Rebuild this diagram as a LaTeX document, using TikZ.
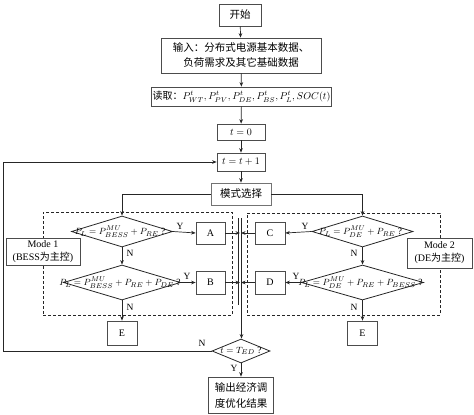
\documentclass[tikz,border=0pt]{standalone}
\usepackage{fontspec}
\setmainfont{Liberation Serif}
\newfontfamily\cjk{Noto Sans CJK SC}
\usetikzlibrary{shapes.geometric,arrows.meta}
\newcommand{\zh}[1]{{\cjk #1}}
\begin{document}
\begin{tikzpicture}[x=1pt,y=-1pt,
  box/.style={draw=black!70, line width=0.7pt, fill=white, inner sep=1pt, align=center, font=\fontsize{10.5}{15}\selectfont},
  dia/.style={draw=black!85, line width=0.8pt, diamond, inner sep=0pt, fill=white},
  dtext/.style={font=\fontsize{9.5}{10}\selectfont, inner sep=0pt},
  con/.style={draw=black!85, line width=0.7pt, -{Stealth[length=4.5pt,width=3.6pt]}},
  ln/.style={draw=black!85, line width=0.7pt},
  dashbox/.style={draw=black!85, line width=0.8pt, dash pattern=on 3pt off 2pt, inner sep=0pt},
  yn/.style={font=\fontsize{9.5}{10}\selectfont, inner sep=0pt}]
\useasboundingbox (0,0) rectangle (474,415);

% dashed mode regions
\node[dashbox, minimum width=189pt, minimum height=103pt] (gL) at (137.5,263.5) {};
\node[dashbox, minimum width=193pt, minimum height=102pt] (gR) at (343.5,264) {};

% main column
\node[box, minimum width=42pt, minimum height=22pt] (start) at (240,15) {\zh{开始}};
\node[box, minimum width=160pt, minimum height=35pt] (input) at (241,55.5) {\zh{输入：分布式电源基本数据、}\\\zh{负荷需求及其它基础数据}};
\node[box, minimum width=163pt, minimum height=19pt, font=\fontsize{10}{11}\selectfont] (read) at (241.5,96.5) {\zh{读取：}$P^t_{WT},P^t_{PV},P^t_{DE},P^t_{BS},P^t_{L},SOC(t)$};
\node[box, minimum width=48pt, minimum height=16pt, font=\fontsize{10}{11}\selectfont] (t0) at (241,132) {$t=0$};
\node[box, minimum width=48pt, minimum height=18pt, font=\fontsize{10}{11}\selectfont] (tt) at (241,162) {$t=t+1$};
\node[box, draw=black!55, minimum width=60pt, minimum height=22pt] (mode) at (241,194) {\zh{模式选择}};

% left mode
\node[dia, minimum width=101pt, minimum height=31pt] (dL1) at (122,231.5) {};
\node[dtext] at (120,231.5) {$P_L=P^{MU}_{BESS}+P_{RE}$ ?};
\node[dia, minimum width=117pt, minimum height=35pt] (dL2) at (122,282.5) {};
\node[dtext] at (120,282.5) {$P_L=P^{MU}_{BESS}+P_{RE}+P_{DE}$ ?};
\node[box, minimum width=29pt, minimum height=22pt, font=\fontsize{10}{12}\selectfont] (A) at (210.5,233) {A};
\node[box, minimum width=29pt, minimum height=23pt, font=\fontsize{10}{12}\selectfont] (B) at (210.5,282.5) {B};
\node[box, minimum width=30pt, minimum height=24pt, font=\fontsize{10}{12}\selectfont] (EL) at (122,333) {E};
\node[box, minimum width=74pt, minimum height=27pt, font=\fontsize{10}{13}\selectfont] (m1) at (43,251.5) {Mode 1\\(BESS\zh{为主控})};

% right mode
\node[dia, minimum width=101pt, minimum height=31pt] (dR1) at (362.5,231.5) {};
\node[dtext] at (360.5,231.5) {$P_L=P^{MU}_{DE}+P_{RE}$ ?};
\node[dia, minimum width=122pt, minimum height=35pt] (dR2) at (362.5,282.5) {};
\node[dtext] at (360.5,282.5) {$P_L=P^{MU}_{DE}+P_{RE}+P_{BESS}$ ?};
\node[box, minimum width=30pt, minimum height=22pt, font=\fontsize{10}{12}\selectfont] (C) at (270,233) {C};
\node[box, minimum width=30pt, minimum height=23pt, font=\fontsize{10}{12}\selectfont] (D) at (270,282.5) {D};
\node[box, minimum width=30pt, minimum height=24pt, font=\fontsize{10}{12}\selectfont] (ER) at (362.5,333) {E};
\node[box, minimum width=65pt, minimum height=30pt, font=\fontsize{10}{13}\selectfont] (m2) at (439.5,253) {Mode 2\\(DE\zh{为主控})};

% end
\node[dia, minimum width=58pt, minimum height=24pt] (dT) at (241,351) {};
\node[dtext] at (241,351) {$t=T_{ED}$ ?};
\node[box, minimum width=65pt, minimum height=36pt, font=\fontsize{10.5}{16}\selectfont] (out) at (241,395) {\zh{输出经济调}\\\zh{度优化结果}};

% junction coordinates
\coordinate (jA) at (240,233);
\coordinate (jC) at (241,233);
\coordinate (jB) at (240,282.5);
\coordinate (jD) at (241,282.5);
\coordinate (vL1) at (238.5,218);
\coordinate (vL2) at (238.5,305);
\coordinate (vR1) at (241.5,218);
\coordinate (loopL) at (3,351);
\coordinate (loopU) at (3,162);

% main arrows
\draw[con] (start) -- (input);
\draw[con] (input) -- (read);
\draw[con] (read) -- (t0);
\draw[con] (t0) -- (tt);
\draw[con] (tt) -- (mode);
\draw[con] (mode.west) -| (dL1.north);
\draw[con] (mode.east) -| (dR1.north);

% left
\draw[con] (dL1.east) -- (A.west);
\draw[con] (dL1.south) -- (dL2.north);
\draw[con] (dL2.east) -- (B.west);
\draw[con] (dL2.south) -- (EL.north);
% right
\draw[con] (dR1.west) -- (C.east);
\draw[con] (dR1.south) -- (dR2.north);
\draw[con] (dR2.west) -- (D.east);
\draw[con] (dR2.south) -- (ER.north);

% merge to center
\draw[ln] (vL1) -- (vL2);
\draw[con] (vR1) -- (vR1 |- dT.north);
\draw[con] (A.east) -- (jA);
\draw[con] (B.east) -- (jB);
\draw[con] (C.west) -- (jC);
\draw[con] (D.west) -- (jD);

% end
\draw[con] (dT.south) -- (out.north);
\draw[con] (dT.west) -- (loopL) -- (loopU) -- (tt.west);

% labels
\node[yn] at (180,226) {Y};
\node[yn] at (130,253) {N};
\node[yn] at (187,276) {Y};
\node[yn] at (130,307) {N};
\node[yn] at (305,226) {Y};
\node[yn] at (354,253) {N};
\node[yn] at (296,276) {Y};
\node[yn] at (354,307) {N};
\node[yn] at (202,343) {N};
\node[yn] at (234,368) {Y};
\end{tikzpicture}
\end{document}
